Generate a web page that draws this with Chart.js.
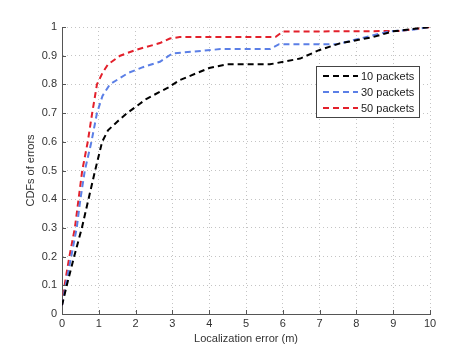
<!DOCTYPE html>
<html>
<head>
<meta charset="utf-8">
<script src="https://cdn.jsdelivr.net/npm/chart.js@4"></script>
<style>
  html, body { margin: 0; padding: 0; background: #fff; }
  #wrap { width: 474px; height: 354px; }
</style>
</head>
<body>
<div id="wrap"><canvas id="cdf"></canvas></div>
<script>
// data
const seriesLabels = ['10 packets', '30 packets', '50 packets'];

const x10 = [0, 0.13, 0.33, 0.54, 0.72, 0.9, 1.09, 1.25, 1.5, 1.77, 2.3, 2.9, 3.2, 4.0, 4.48, 5.65, 6.47, 7.0, 7.55, 8.45, 9.0, 10];
const y10 = [0.03, 0.1, 0.2, 0.3, 0.4, 0.5, 0.6, 0.64, 0.67, 0.7, 0.75, 0.79, 0.815, 0.857, 0.87, 0.87, 0.89, 0.92, 0.943, 0.965, 0.985, 1];

const x30 = [0, 0.1, 0.25, 0.4, 0.5, 0.62, 0.8, 0.95, 1.1, 1.3, 1.8, 2.2, 2.66, 3.0, 3.56, 4.3, 5.65, 5.9, 7.47, 8.9, 9.5, 10];
const y30 = [0.03, 0.1, 0.2, 0.3, 0.4, 0.5, 0.6, 0.7, 0.76, 0.8, 0.84, 0.86, 0.879, 0.908, 0.914, 0.923, 0.923, 0.94, 0.94, 0.985, 0.99, 1];

const x50 = [0, 0.07, 0.2, 0.35, 0.45, 0.55, 0.7, 0.82, 0.95, 1.1, 1.25, 1.58, 2.0, 2.66, 2.93, 3.2, 5.8, 6.0, 9.2, 10];
const y50 = [0.03, 0.1, 0.2, 0.3, 0.4, 0.5, 0.6, 0.7, 0.8, 0.84, 0.87, 0.9, 0.92, 0.944, 0.96, 0.965, 0.965, 0.984, 0.986, 1];

const colors = ['#000000', '#5b7fe6', '#e3202b'];

const pts = (xs, ys) => xs.map((x, i) => ({ x: x, y: ys[i] }));
const allX = [x10, x30, x50];
const allY = [y10, y30, y50];

// draws inward tick marks and the boxed legend
const extras = {
  id: 'extras',
  afterDraw(chart) {
    const ctx = chart.ctx;
    const xs = chart.scales.x, ys = chart.scales.y;
    const a = chart.chartArea;
    ctx.save();
    ctx.strokeStyle = '#555';
    ctx.lineWidth = 1;
    ctx.beginPath();
    xs.ticks.forEach(t => {
      const px = Math.round(xs.getPixelForValue(t.value)) + 0.5;
      ctx.moveTo(px, a.bottom); ctx.lineTo(px, a.bottom - 4);
    });
    ys.ticks.forEach(t => {
      const py = Math.round(ys.getPixelForValue(t.value)) + 0.5;
      ctx.moveTo(a.left, py); ctx.lineTo(a.left + 4, py);
    });
    ctx.stroke();

    // legend
    const bx = 316.5, by = 66.5, bw = 103, bh = 51;
    ctx.fillStyle = '#fff';
    ctx.fillRect(bx, by, bw, bh);
    ctx.strokeStyle = '#444';
    ctx.strokeRect(bx, by, bw, bh);
    ctx.font = '11px "Liberation Sans", Arial, sans-serif';
    ctx.textBaseline = 'middle';
    seriesLabels.forEach((lab, i) => {
      const yy = 76 + i * 16;
      ctx.strokeStyle = colors[i];
      ctx.lineWidth = 2;
      ctx.setLineDash([6, 4]);
      ctx.beginPath();
      ctx.moveTo(323, yy); ctx.lineTo(358, yy);
      ctx.stroke();
      ctx.setLineDash([]);
      ctx.fillStyle = '#222';
      ctx.fillText(lab, 361, yy + 1);
    });
    ctx.restore();
  }
};

const tickFont = { family: '"Liberation Sans", Arial, sans-serif', size: 11 };

new Chart(document.getElementById('cdf'), {
  type: 'line',
  data: {
    datasets: seriesLabels.map((lab, i) => ({
      label: lab,
      data: pts(allX[i], allY[i]),
      borderColor: colors[i],
      borderWidth: 2,
      borderDash: [6, 4],
      pointRadius: 0,
      tension: 0,
      fill: false,
    })),
  },
  options: {
    responsive: true,
    maintainAspectRatio: false,
    animation: false,
    layout: { padding: { left: 20, top: 27, right: 44, bottom: 6 } },
    plugins: {
      legend: { display: false },
      tooltip: { enabled: false },
    },
    scales: {
      x: {
        type: 'linear',
        min: 0,
        max: 10,
        ticks: { stepSize: 1, color: '#333', font: tickFont, padding: 3, maxRotation: 0 },
        grid: { color: '#c4c4c4', drawTicks: false },
        border: { color: '#555', dash: [1, 3] },
        title: { display: true, text: 'Localization error (m)', color: '#333', font: tickFont, padding: 2 },
        afterFit(s) { s.height = 34; },
      },
      y: {
        min: 0,
        max: 1,
        ticks: {
          stepSize: 0.1, color: '#333', font: tickFont, padding: 5,
          callback: v => String(Number(v.toFixed(1))),
        },
        grid: { color: '#c4c4c4', drawTicks: false },
        border: { color: '#555', dash: [1, 3] },
        title: { display: true, text: 'CDFs of errors', color: '#333', font: tickFont, padding: 4 },
        afterFit(s) { s.width = 42; },
      },
    },
  },
  plugins: [extras],
});
</script>
</body>
</html>
